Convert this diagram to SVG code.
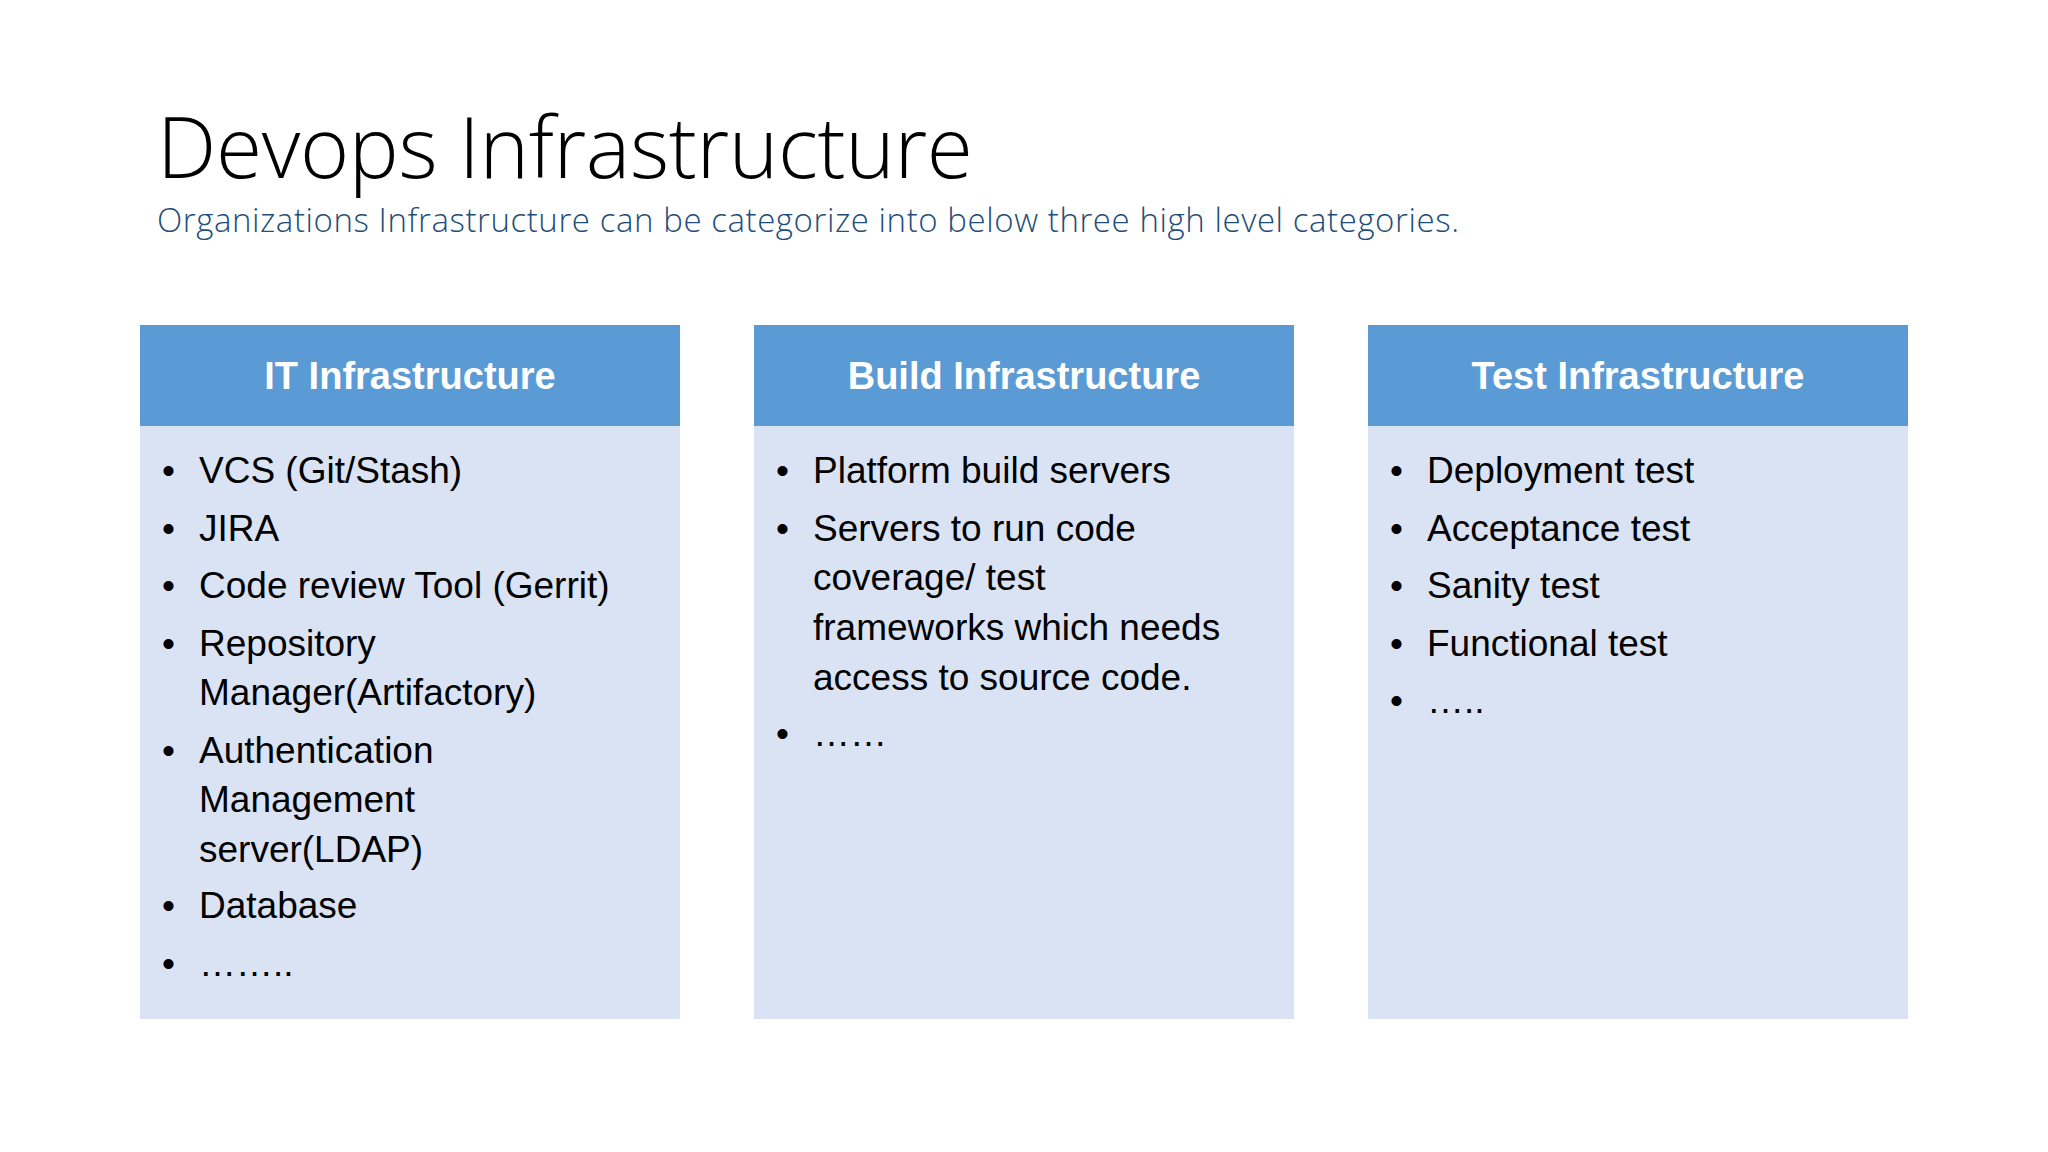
<svg xmlns="http://www.w3.org/2000/svg" width="2048" height="1152" viewBox="0 0 2048 1152">
<style>
.t{font-family:"Liberation Sans",Arial,sans-serif;font-size:37px;fill:#000}
.h{font-family:"Liberation Sans",Arial,sans-serif;font-size:38px;font-weight:bold;fill:#fff}
.hd{fill:#5b9bd5}.bd{fill:#dae3f3}
</style>
<rect width="2048" height="1152" fill="#fff"/>
<text x="157" y="178" font-family="Open Sans,Liberation Sans,sans-serif" font-weight="300" font-size="84" fill="#000" textLength="816">Devops Infrastructure</text>
<text x="157" y="232" font-family="Open Sans,Liberation Sans,sans-serif" font-weight="300" font-size="33" fill="#1f4e79" textLength="1302">Organizations Infrastructure can be categorize into below three high level categories.</text>
<g id="it">
<rect class="bd" x="140" y="325" width="540" height="694"/><rect class="hd" x="140" y="325" width="540" height="101"/>
<text class="h" x="410" y="389" text-anchor="middle">IT Infrastructure</text>
<g class="t"><text x="162" y="483">•</text><text x="199" y="483">VCS (Git/Stash)</text>
<text x="162" y="541">•</text><text x="199" y="541">JIRA</text>
<text x="162" y="598">•</text><text x="199" y="598">Code review Tool (Gerrit)</text>
<text x="162" y="656">•</text><text x="199" y="656">Repository</text><text x="199" y="705">Manager(Artifactory)</text>
<text x="162" y="763">•</text><text x="199" y="763">Authentication</text><text x="199" y="812">Management</text><text x="199" y="862">server(LDAP)</text>
<text x="162" y="918">•</text><text x="199" y="918">Database</text>
<text x="162" y="976">•</text><text x="199" y="976">……..</text></g>
</g>
<g id="build">
<rect class="bd" x="754" y="325" width="540" height="694"/><rect class="hd" x="754" y="325" width="540" height="101"/>
<text class="h" x="1024" y="389" text-anchor="middle">Build Infrastructure</text>
<g class="t"><text x="776" y="483">•</text><text x="813" y="483">Platform build servers</text>
<text x="776" y="541">•</text><text x="813" y="541">Servers to run code</text><text x="813" y="590">coverage/ test</text><text x="813" y="640">frameworks which needs</text><text x="813" y="690">access to source code.</text>
<text x="776" y="746">•</text><text x="813" y="746">……</text></g>
</g>
<g id="test">
<rect class="bd" x="1368" y="325" width="540" height="694"/><rect class="hd" x="1368" y="325" width="540" height="101"/>
<text class="h" x="1638" y="389" text-anchor="middle">Test Infrastructure</text>
<g class="t"><text x="1390" y="483">•</text><text x="1427" y="483">Deployment test</text>
<text x="1390" y="541">•</text><text x="1427" y="541">Acceptance test</text>
<text x="1390" y="598">•</text><text x="1427" y="598">Sanity test</text>
<text x="1390" y="656">•</text><text x="1427" y="656">Functional test</text>
<text x="1390" y="713">•</text><text x="1427" y="713">…..</text></g>
</g>
<g id="connectors"/>
</svg>
